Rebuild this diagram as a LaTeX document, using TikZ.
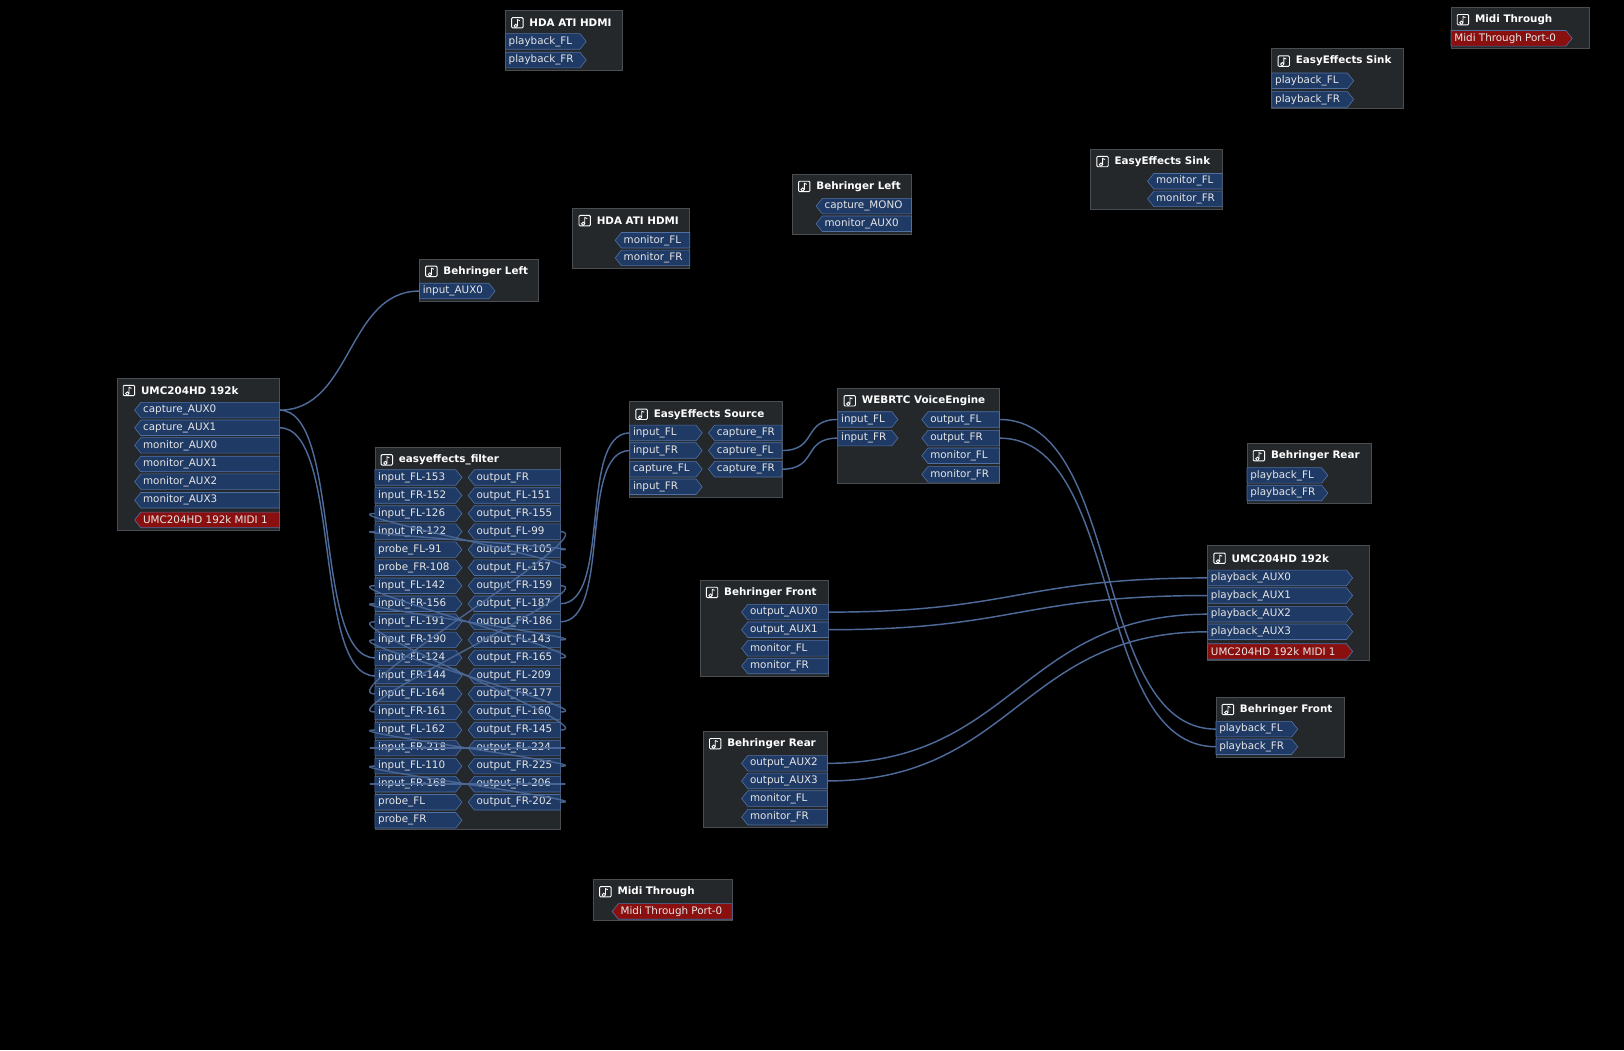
\documentclass[tikz,border=0pt]{standalone}
\usepackage{fontspec}
\setmainfont{DejaVu Sans}
\definecolor{bx}{HTML}{25282B}
\definecolor{bxe}{HTML}{4A4E53}
\definecolor{pf}{HTML}{1F3A64}
\definecolor{pe}{HTML}{4F6FA3}
\definecolor{rf}{HTML}{8A1010}
\definecolor{re}{HTML}{C03A3A}
\definecolor{tx}{HTML}{E6E6E6}
\definecolor{wr}{HTML}{4D6A99}
\tikzset{x=1pt,y=-1pt,
 boxst/.style={fill=bx,draw=bxe,line width=0.8pt},
 ttl/.style={text=white,font=\fontsize{10}{12}\selectfont\bfseries,anchor=west,inner sep=0pt},
 ptx/.style={text=tx,font=\fontsize{10}{12}\selectfont,anchor=west,inner sep=0pt},
 wire/.style={draw=wr,line width=1.4pt}}
\newcommand\gbox[6]{%
 \draw[boxst] (#2,#3) rectangle (#4,#5);
 \draw[white,line width=0.9pt,rounded corners=1pt] (#2+6,#3+7) rectangle (#2+17,#3+17);
 \draw[white,line width=0.8pt] (#2+10,#3+15) circle (1.6) (#2+11.6,#3+15)--(#2+11.6,#3+9)--(#2+14,#3+10);
 \node[ttl] (#1) at (#2+23,#3+12) {#6};}
\newcommand\inport[6]{% point right, connection left
 \draw[fill=#6!0!pf,fill=#6,draw=pe,line width=0.6pt] (#2,#4-7.5)--(#3-6,#4-7.5)--(#3,#4)--(#3-6,#4+7.5)--(#2,#4+7.5)--cycle;
 \node[ptx] (#1) at (#2+3,#4) {#5};
 \coordinate (#1c) at (#2,#4);}
\newcommand\outport[6]{% point left, connection right
 \draw[fill=#6,draw=pe,line width=0.6pt] (#2,#4)--(#2+6,#4-7.5)--(#3,#4-7.5)--(#3,#4+7.5)--(#2+6,#4+7.5)--cycle;
 \node[ptx] (#1) at (#2+8,#4) {#5};
 \coordinate (#1c) at (#3,#4);}
\begin{document}
\begin{tikzpicture}
\useasboundingbox[fill=black] (0,0) rectangle (1568,1014);
% HDA ATI HDMI top
\gbox{hda1}{488}{10}{601}{68}{HDA ATI HDMI}
\inport{hda1a}{488}{566}{40}{playback\_FL}{pf}
\inport{hda1b}{488}{566}{58}{playback\_FR}{pf}
% Midi Through top right
\gbox{mt1}{1401}{7}{1535}{47}{Midi Through}
\inport{mt1a}{1401}{1518}{37}{Midi Through Port-0}{rf}
% EE sink 1
\gbox{es1}{1228}{47}{1355}{105}{EasyEffects Sink}
\inport{es1a}{1228}{1307}{78}{playback\_FL}{pf}
\inport{es1b}{1228}{1307}{96}{playback\_FR}{pf}
% EE sink 2
\gbox{es2}{1053}{144}{1180}{202}{EasyEffects Sink}
\outport{es2a}{1108}{1180}{175}{monitor\_FL}{pf}
\outport{es2b}{1108}{1180}{192}{monitor\_FR}{pf}
% Behringer Left 1
\gbox{bl1}{765}{168}{880}{226}{Behringer Left}
\outport{bl1a}{788}{880}{199}{capture\_MONO}{pf}
\outport{bl1b}{788}{880}{216}{monitor\_AUX0}{pf}
% HDA monitor
\gbox{hda2}{553}{201}{666}{259}{HDA ATI HDMI}
\outport{hda2a}{594}{666}{232}{monitor\_FL}{pf}
\outport{hda2b}{594}{666}{249}{monitor\_FR}{pf}
% Behringer Left input
\gbox{bl2}{405}{250}{520}{291}{Behringer Left}
\inport{bl2a}{405}{478}{281}{input\_AUX0}{pf}
% UMC left
\gbox{um1}{113}{365}{270}{512}{UMC204HD 192k}
\outport{um1a}{130}{270}{396}{capture\_AUX0}{pf}
\outport{um1b}{130}{270}{413}{capture\_AUX1}{pf}
\outport{um1c}{130}{270}{430}{monitor\_AUX0}{pf}
\outport{um1d}{130}{270}{448}{monitor\_AUX1}{pf}
\outport{um1e}{130}{270}{465}{monitor\_AUX2}{pf}
\outport{um1f}{130}{270}{483}{monitor\_AUX3}{pf}
\outport{um1g}{130}{270}{502}{UMC204HD 192k MIDI 1}{rf}
% filter
\gbox{fl}{362}{432}{541}{801}{easyeffects\_filter}
\foreach \t [count=\i from 0] in {input\_FL-153,input\_FR-152,input\_FL-126,input\_FR-122,probe\_FL-91,probe\_FR-108,input\_FL-142,input\_FR-156,input\_FL-191,input\_FR-190,input\_FL-124,input\_FR-144,input\_FL-164,input\_FR-161,input\_FL-162,input\_FR-218,input\_FL-110,input\_FR-168,probe\_FL,probe\_FR}
 {\inport{fi\i}{362}{446}{461+17.42*\i}{\t}{pf}}
\foreach \t [count=\i from 0] in {output\_FR,output\_FL-151,output\_FR-155,output\_FL-99,output\_FR-105,output\_FL-157,output\_FR-159,output\_FL-187,output\_FR-186,output\_FL-143,output\_FR-165,output\_FL-209,output\_FR-177,output\_FL-160,output\_FR-145,output\_FL-224,output\_FR-225,output\_FL-206,output\_FR-202}
 {\outport{fo\i}{452}{541}{461+17.42*\i}{\t}{pf}}
% EE source
\gbox{src}{608}{388}{755}{480}{EasyEffects Source}
\inport{srci0}{608}{678}{418}{input\_FL}{pf}
\inport{srci1}{608}{678}{435}{input\_FR}{pf}
\inport{srci2}{608}{678}{453}{capture\_FL}{pf}
\inport{srci3}{608}{678}{470}{input\_FR}{pf}
\outport{srco0}{684}{755}{418}{capture\_FR}{pf}
\outport{srco1}{684}{755}{435}{capture\_FL}{pf}
\outport{srco2}{684}{755}{453}{capture\_FR}{pf}
% WEBRTC
\gbox{wb}{809}{375}{965}{467}{WEBRTC VoiceEngine}
\inport{wbi0}{809}{867}{405}{input\_FL}{pf}
\inport{wbi1}{809}{867}{423}{input\_FR}{pf}
\outport{wbo0}{890}{965}{405}{output\_FL}{pf}
\outport{wbo1}{890}{965}{423}{output\_FR}{pf}
\outport{wbo2}{890}{965}{440}{monitor\_FL}{pf}
\outport{wbo3}{890}{965}{458}{monitor\_FR}{pf}
% Behringer Rear right
\gbox{br1}{1204}{428}{1324}{486}{Behringer Rear}
\inport{br1a}{1204}{1282}{459}{playback\_FL}{pf}
\inport{br1b}{1204}{1282}{476}{playback\_FR}{pf}
% UMC right
\gbox{um2}{1166}{527}{1322}{638}{UMC204HD 192k}
\inport{um2a}{1166}{1306}{558}{playback\_AUX0}{pf}
\inport{um2b}{1166}{1306}{575}{playback\_AUX1}{pf}
\inport{um2c}{1166}{1306}{593}{playback\_AUX2}{pf}
\inport{um2d}{1166}{1306}{610}{playback\_AUX3}{pf}
\inport{um2e}{1166}{1306}{629}{UMC204HD 192k MIDI 1}{rf}
% Behringer Front left
\gbox{bf1}{676}{560}{800}{653}{Behringer Front}
\outport{bf1a}{716}{800}{591}{output\_AUX0}{pf}
\outport{bf1b}{716}{800}{608}{output\_AUX1}{pf}
\outport{bf1c}{716}{800}{626}{monitor\_FL}{pf}
\outport{bf1d}{716}{800}{643}{monitor\_FR}{pf}
% Behringer Front right
\gbox{bf2}{1174}{673}{1298}{731}{Behringer Front}
\inport{bf2a}{1174}{1253}{704}{playback\_FL}{pf}
\inport{bf2b}{1174}{1253}{721}{playback\_FR}{pf}
% Behringer Rear left
\gbox{br2}{679}{706}{799}{799}{Behringer Rear}
\outport{br2a}{716}{799}{737}{output\_AUX2}{pf}
\outport{br2b}{716}{799}{754}{output\_AUX3}{pf}
\outport{br2c}{716}{799}{771}{monitor\_FL}{pf}
\outport{br2d}{716}{799}{789}{monitor\_FR}{pf}
% Midi Through bottom
\gbox{mt2}{573}{849}{707}{889}{Midi Through}
\outport{mt2a}{591}{707}{880}{Midi Through Port-0}{rf}
% wires
\draw[wire] (um1ac) .. controls +(70,0) and +(-70,0) .. (bl2ac);
\draw[wire] (um1ac) .. controls +(60,0) and +(-60,0) .. (fi10c);
\draw[wire] (um1bc) .. controls +(60,0) and +(-60,0) .. (fi11c);
\draw[wire] (fo7c) .. controls +(50,0) and +(-50,0) .. (srci0c);
\draw[wire] (fo8c) .. controls +(50,0) and +(-50,0) .. (srci1c);
\draw[wire] (srco1c) .. controls +(35,0) and +(-35,0) .. (wbi0c);
\draw[wire] (srco2c) .. controls +(35,0) and +(-35,0) .. (wbi1c);
\draw[wire] (wbo0c) .. controls +(120,0) and +(-120,0) .. (bf2ac);
\draw[wire] (wbo1c) .. controls +(120,0) and +(-120,0) .. (bf2bc);
\draw[wire] (bf1ac) .. controls +(180,0) and +(-180,0) .. (um2ac);
\draw[wire] (bf1bc) .. controls +(180,0) and +(-180,0) .. (um2bc);
\draw[wire] (br2ac) .. controls +(180,0) and +(-180,0) .. (um2cc);
\draw[wire] (br2bc) .. controls +(180,0) and +(-180,0) .. (um2dc);
\foreach \o/\n in {5/2,4/3,10/6,9/7,14/8,13/9,3/12,6/13,16/14,15/15,18/16,17/17}
 {\draw[wire,opacity=0.9] (fo\o c) .. controls +(45,0) and +(-45,0) .. (fi\n c);}
\end{tikzpicture}
\end{document}
